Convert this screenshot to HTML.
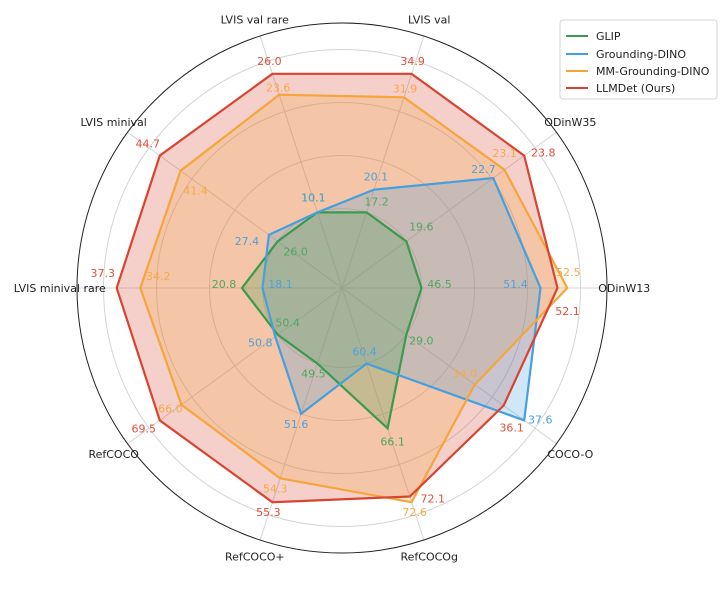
<!DOCTYPE html>
<html><head><meta charset="utf-8">
<style>
html,body{margin:0;padding:0;background:#fff;}
svg{display:block;font-family:"DejaVu Sans","Liberation Sans",sans-serif;}
</style></head>
<body>
<svg id="chart" width="728" height="598" viewBox="0 0 728 598" xmlns="http://www.w3.org/2000/svg">
<g id="grid"></g>
<g id="fills"></g>
<g id="series"></g>
<g id="labels"></g>
<g id="axislabels"></g>
<g>
  <rect x="560" y="20" width="157" height="79" rx="3" fill="#fff" fill-opacity="0.85" stroke="#d6d6d6"/>
  <g><line x1="566" y1="36" x2="588" y2="36" stroke="#3b9a4f" stroke-width="2"/><text x="596" y="40" font-size="11" fill="#222">GLIP</text></g>
  <g><line x1="566" y1="54" x2="588" y2="54" stroke="#45a0de" stroke-width="2"/><text x="596" y="58" font-size="11" fill="#222">Grounding-DINO</text></g>
  <g><line x1="566" y1="71" x2="588" y2="71" stroke="#f5a53a" stroke-width="2"/><text x="596" y="75" font-size="11" fill="#222">MM-Grounding-DINO</text></g>
  <g><line x1="566" y1="88" x2="588" y2="88" stroke="#d8442f" stroke-width="2"/><text x="596" y="92" font-size="11" fill="#222">LLMDet (Ours)</text></g>
</g>
</svg>
<script>
const categories = ["ODinW13","ODinW35","LVIS val","LVIS val rare","LVIS minival","LVIS minival rare","RefCOCO","RefCOCO+","RefCOCOg","COCO-O"];
const glip = [46.5,19.6,17.2,10.1,26.0,20.8,50.4,49.5,66.1,29.0];
const groundingDino = [51.4,22.7,20.1,10.1,27.4,18.1,50.8,51.6,60.4,37.6];
const mmGroundingDino = [52.5,23.1,31.9,23.6,41.4,34.2,66.0,54.3,72.6,34.0];
const llmdet = [52.1,23.8,34.9,26.0,44.7,37.3,69.5,55.3,72.1,36.1];

const CX=342, CY=288, R=265, NS="http://www.w3.org/2000/svg";
const seriesDefs=[
 {name:"glip",vals:glip,color:"#3b9a4f",text:"#4fa85f",off:[[18,-4],[15,-15],[10,-11],[-4,-15],[18,10],[-18,-4],[10,-12],[-4,10],[5,13],[15,6]]},
 {name:"grounding-dino",vals:groundingDino,color:"#45a0de",text:"#4da3dd",off:[[-25,-4],[-10,-9],[2,-13],[-4,-15],[-22,6],[18,-4],[-15,6],[-5,10],[-2,-12],[16,-1]]},
 {name:"mm-grounding-dino",vals:mmGroundingDino,color:"#f5a53a",text:"#f5aa4a",off:[[1,-16],[0,-17],[1,-9],[-1,-7],[15,20],[18,-12],[-11,4],[-5,10],[3,10],[-10,-11]]},
 {name:"llmdet",vals:llmdet,color:"#d8442f",text:"#e0503c",off:[[10,23],[19,-3],[1,-13],[-3,-13],[-12,-12],[-14,-15],[-16,8],[-4,10],[23,2],[8,22]]}
];
const N=categories.length;
function ang(i){return i*2*Math.PI/N;}
function norm(i,v){
  const all=seriesDefs.map(s=>s.vals[i]);
  const mn=Math.min(...all), mx=Math.max(...all);
  return mx===mn?0.85:0.3+0.55*(v-mn)/(mx-mn);
}
function pt(i,r){return [CX+r*R*Math.cos(ang(i)), CY-r*R*Math.sin(ang(i))];}
function mk(tag,attrs,parent){const e=document.createElementNS(NS,tag);for(const k in attrs)e.setAttribute(k,attrs[k]);parent.appendChild(e);return e;}

const grid=document.getElementById('grid');
[0.3,0.5,0.7,0.9].forEach(r=>{
  const c=mk('circle',{cx:CX,cy:CY,r:r*R,fill:'none',stroke:'#d4d4d4','stroke-width':1},grid);
  
  
});
for(let i=0;i<N;i++){
  const p=pt(i,1);
  const l=mk('line',{x1:CX,y1:CY,x2:p[0],y2:p[1],stroke:'#d4d4d4','stroke-width':1},grid);
  
  
}
const outer=mk('circle',{cx:CX,cy:CY,r:R,fill:'none',stroke:'#222','stroke-width':1},grid);



const fg=document.getElementById('fills'), sg=document.getElementById('series'), lg=document.getElementById('labels');
function polyStr(s){return s.vals.map((v,i)=>pt(i,norm(i,v))).map(p=>p[0].toFixed(1)+','+p[1].toFixed(1)).join(' ');}
seriesDefs.slice().reverse().forEach(s=>{
  const f=mk('polygon',{points:polyStr(s),fill:s.color,'fill-opacity':0.25,stroke:'none'},fg);
  
  
});
seriesDefs.forEach(s=>{
  const o=mk('polygon',{points:polyStr(s),fill:'none',stroke:s.color,'stroke-width':2.2,'stroke-linejoin':'miter'},sg);
  
  
});
seriesDefs.forEach(s=>{
  s.vals.forEach((v,i)=>{
    const p=pt(i,norm(i,v));
    const t=mk('text',{x:p[0]+s.off[i][0],y:p[1]+s.off[i][1]+4,'font-size':11,fill:s.text,'text-anchor':'middle'},lg);
    t.textContent=v.toFixed(1);
    
    
  });
});
const ag=document.getElementById('axislabels');
categories.forEach((c,i)=>{
  const p=pt(i,1.065);
  const t=mk('text',{x:p[0],y:p[1]+4,'font-size':11,fill:'#222','text-anchor':'middle'},ag);
  t.textContent=c;
  
  
});
</script>
</body></html>
